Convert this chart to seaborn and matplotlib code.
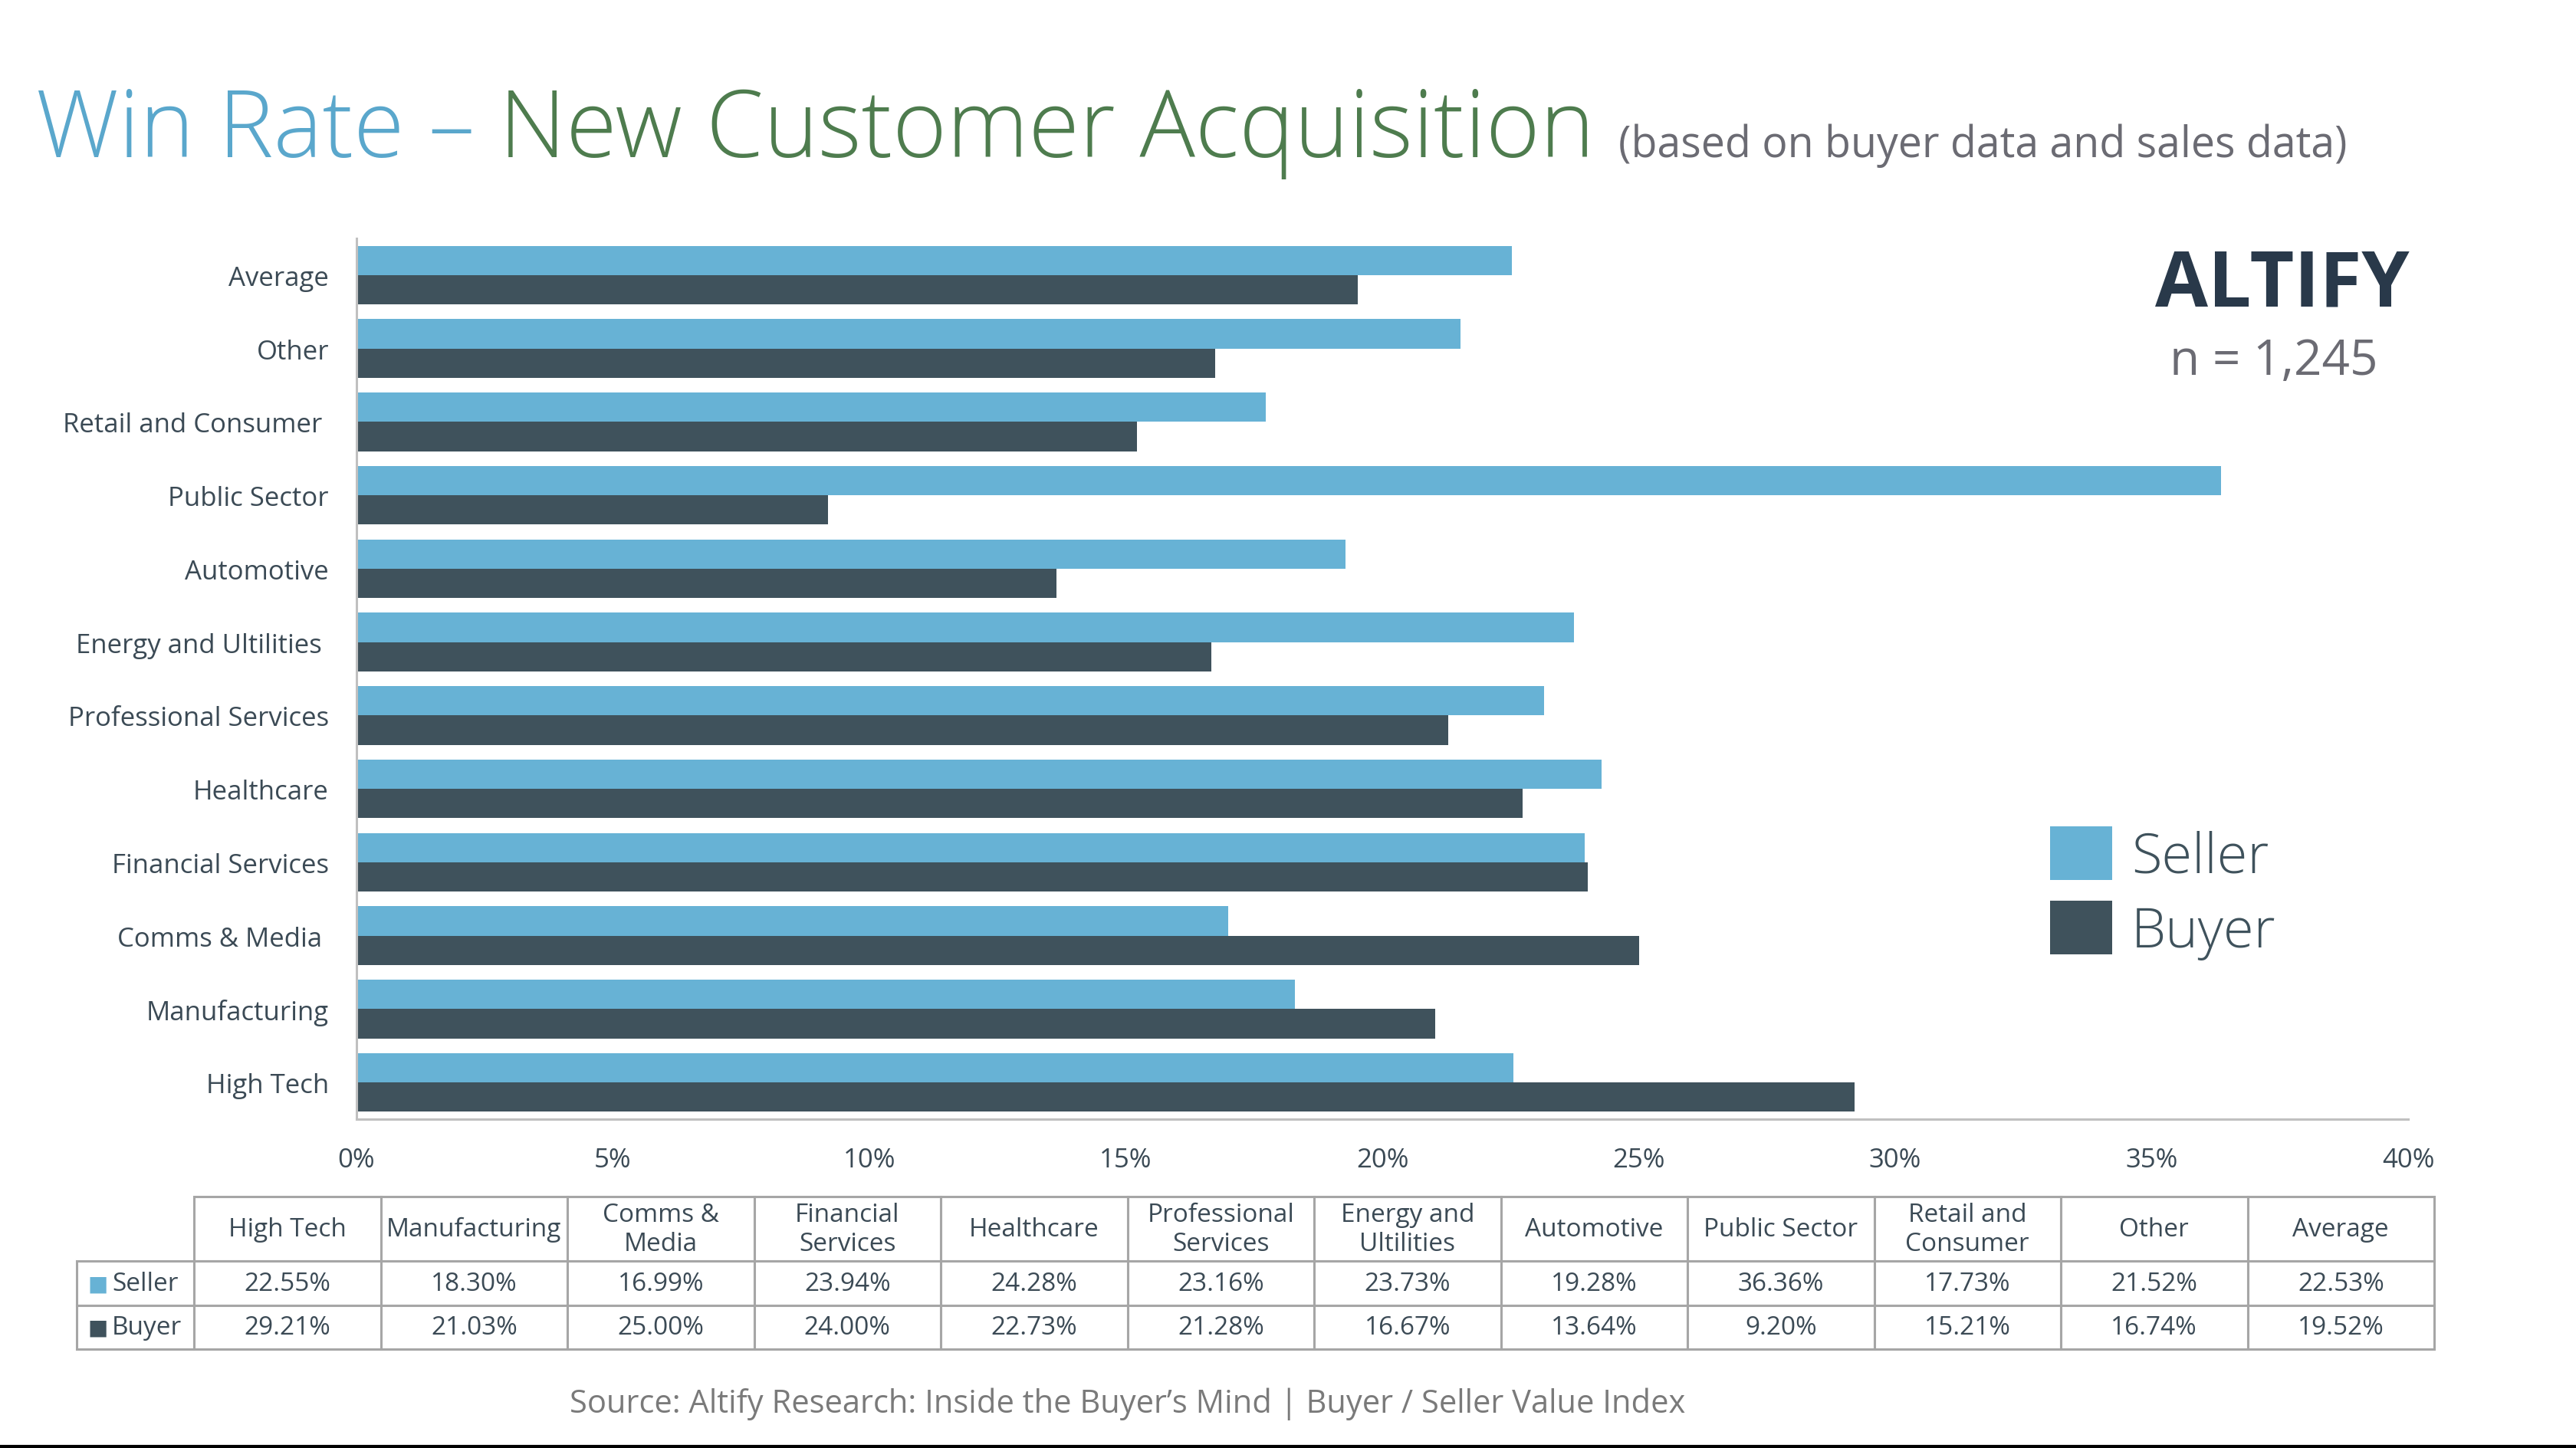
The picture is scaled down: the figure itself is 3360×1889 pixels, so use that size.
import numpy as np
import matplotlib
matplotlib.use("Agg")
import matplotlib.pyplot as plt
import matplotlib.ticker as mticker
from matplotlib.lines import Line2D
import seaborn as sns
import pandas as pd

# DATEN (Reihenfolge wie in der Tabelle)

categories = ["High Tech", "Manufacturing", "Comms & Media ", "Financial Services",
              "Healthcare", "Professional Services", "Energy and Ultilities ", "Automotive",
              "Public Sector", "Retail and Consumer ", "Other", "Average"]
table_headers = ["High Tech", "Manufacturing", "Comms &\nMedia", "Financial\nServices",
                 "Healthcare", "Professional\nServices", "Energy and\nUltilities", "Automotive",
                 "Public Sector", "Retail and\nConsumer", "Other", "Average"]
seller = [22.55, 18.30, 16.99, 23.94, 24.28, 23.16, 23.73, 19.28, 36.36, 17.73, 21.52, 22.53]
buyer = [29.21, 21.03, 25.00, 24.00, 22.73, 21.28, 16.67, 13.64, 9.20, 15.21, 16.74, 19.52]
groups = ["Seller", "Buyer"]
x_ticks = [0, 5, 10, 15, 20, 25, 30, 35, 40]

seller_color = "#67b2d5"
buyer_color = "#3f525c"
text_color = "#3b4a55"
grey = "#6b6b73"
line_grey = "#c0c0c0"

sns.set_style("white")
plt.rcParams["font.family"] = ["Open Sans", "DejaVu Sans"]

W, H = 3360, 1890
fig = plt.figure(figsize=(W / 200, H / 200), dpi=200)


def fx(px):
    return px / W


def fy(px):
    return 1 - px / H


# BALKENDIAGRAMM

df = pd.DataFrame({
    "category": categories * 2,
    "group": ["Seller"] * len(seller) + ["Buyer"] * len(buyer),
    "rate": seller + buyer,
})

ax = fig.add_axes([fx(465), fy(1461), fx(3141) - fx(465), fy(312) - fy(1461)])
sns.barplot(data=df, x="rate", y="category", hue="group", order=categories[::-1],
            hue_order=groups, palette=[seller_color, buyer_color], width=0.8,
            saturation=1, linewidth=0, orient="h", ax=ax)

ax.set_xlim(0, 40)
ax.set_xticks(x_ticks)
ax.xaxis.set_major_formatter(mticker.PercentFormatter(xmax=100, decimals=0))
ax.set_xlabel("")
ax.set_ylabel("")
ax.set_yticks(np.arange(-0.5, len(categories), 1), minor=True)
ax.tick_params(axis="y", which="major", length=0, pad=13, labelsize=12.5, labelcolor=text_color)
ax.tick_params(axis="y", which="minor", length=4.3, width=1.1, color=line_grey, direction="out")
ax.tick_params(axis="x", length=4, width=1.1, color=line_grey, pad=9, labelsize=12.5,
               labelcolor=text_color, direction="out")
for side in ["top", "right"]:
    ax.spines[side].set_visible(False)
for side in ["left", "bottom"]:
    ax.spines[side].set_color(line_grey)
    ax.spines[side].set_linewidth(1.1)

handles, labels = ax.get_legend_handles_labels()
ax.legend(handles, labels, loc="upper left", bbox_to_anchor=(fx(2674), fy(1079)),
          bbox_transform=fig.transFigure, frameon=False,
          handlelength=1.12, handleheight=1.12, handletextpad=0.35, labelspacing=0.28,
          borderpad=0, borderaxespad=0, labelcolor=buyer_color,
          prop={"weight": "light", "size": 26})

# TITEL (Teile nacheinander setzen)

renderer = fig.canvas.get_renderer()
parts = [("Win Rate – ", "#5aa7cc", 43.5, "light"),
         ("New Customer Acquisition ", "#4e7c4e", 43.5, "light"),
         ("(based on buyer data and sales data)", grey, 20, "normal")]
x = fx(47)
for txt, col, size, weight in parts:
    t = fig.text(x, fy(205), txt, color=col, fontsize=size, fontweight=weight,
                 ha="left", va="baseline")
    bb = t.get_window_extent(renderer=renderer)
    x = bb.x1 / W

# LOGO UND STICHPROBE

fig.text(fx(2977), fy(399), "ALTIFY", color="#29394a", fontsize=36, fontweight="bold",
         ha="center", va="baseline")
fig.text(fx(2966), fy(489), "n = 1,245", color=grey, fontsize=23, ha="center", va="baseline")

# TABELLE

tax = fig.add_axes([fx(100), fy(1761), fx(3175) - fx(100), fy(1562) - fy(1761)])
tax.axis("off")
cell_text = [[""] + table_headers,
             [""] + [f"{v:.2f}%" for v in seller],
             [""] + [f"{v:.2f}%" for v in buyer]]
table = tax.table(cellText=cell_text, cellLoc="center", bbox=[0, 0, 1, 1])
table.auto_set_font_size(False)
table.set_fontsize(12)
col_w = [153] + [243.4] * len(table_headers)
row_h = [84, 57, 57]
for (r, c), cell in table.get_celld().items():
    cell.set_width(col_w[c])
    cell.set_height(row_h[r])
    cell.set_edgecolor("#a6a6a6")
    cell.set_linewidth(1.1)
    cell.get_text().set_color(text_color)
table[0, 0].visible_edges = "open"

total_w = sum(col_w)
for i, (name, col) in enumerate(zip(groups, [seller_color, buyer_color])):
    y = (57 * (1 - i) + 28.5) / sum(row_h)
    tax.text(14 / total_w, y, "■", color=col, fontsize=10, ha="left", va="center",
             family="DejaVu Sans")
    tax.text(46 / total_w, y, name, color=text_color, fontsize=12, ha="left", va="center")

# QUELLE

fig.text(fx(1471), fy(1843), "Source: Altify Research: Inside the Buyer’s Mind | Buyer / Seller Value Index",
         color="#7a7a7a", fontsize=15, ha="center", va="baseline")
fig.add_artist(Line2D([0, 1], [0.0008, 0.0008], color="black", lw=1.5, transform=fig.transFigure))

fig.savefig("out.png", dpi=200)
